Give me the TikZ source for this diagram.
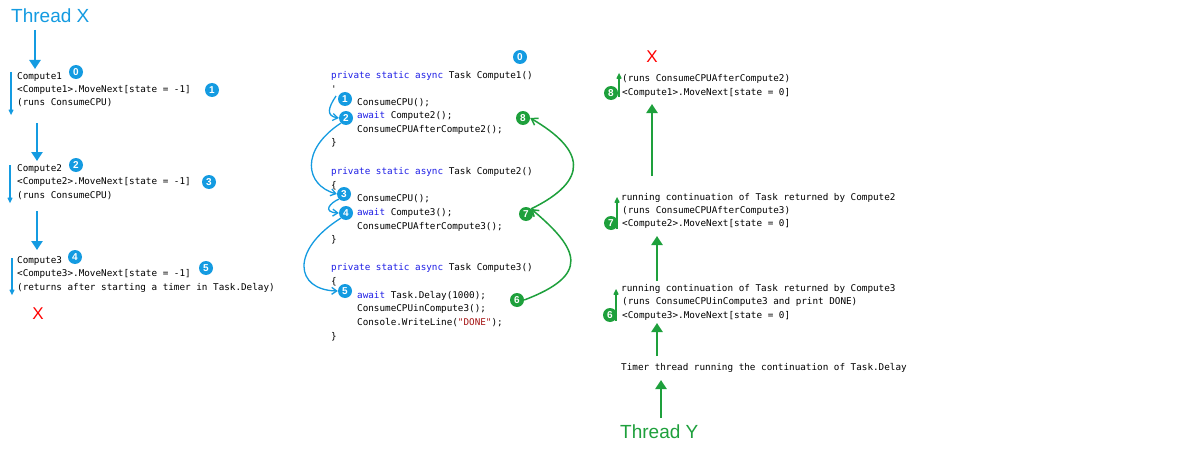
\documentclass[tikz,border=0pt]{standalone}
\usepackage{fontspec}
\setmainfont{Liberation Sans}
\setmonofont{DejaVu Sans Mono}
\usetikzlibrary{arrows.meta}
\definecolor{tblue}{RGB}{20,155,225}
\definecolor{tgreen}{RGB}{30,160,60}
\definecolor{kw}{RGB}{30,30,230}
\definecolor{strc}{RGB}{165,20,20}
\tikzset{
 code/.style={anchor=west,inner sep=0,font=\ttfamily\fontsize{9.3}{11}\selectfont},
 num/.style={circle,inner sep=0,minimum size=14,text=white,font=\bfseries\fontsize{10}{10}\selectfont},
 bnum/.style={num,fill=tblue},
 gnum/.style={num,fill=tgreen},
 bigb/.style={tblue,line width=2.6,-{Triangle[length=9,width=11]}},
 bigg/.style={tgreen,line width=2.6,-{Triangle[length=9,width=11]}},
 thinb/.style={tblue,line width=1.2,-{Straight Barb[length=4,width=4]}},
 thing/.style={tgreen,line width=1.5,-{Straight Barb[length=4,width=4]}},
 cb/.style={tblue,line width=1.3,-{Straight Barb[length=5,width=7]}},
 cg/.style={tgreen,line width=1.5,-{Straight Barb[length=6,width=8]}},
 redx/.style={text=red,font=\fontsize{17}{17}\selectfont},
}
\begin{document}
\begin{tikzpicture}[x=1pt,y=-1pt]
\useasboundingbox[fill=white] (0,0) rectangle (1200,452);
% left column
\node[anchor=west,inner sep=0,text=tblue,font=\fontsize{19}{19}\selectfont] (tx) at (11,16) {Thread X};
\coordinate (a1s) at (35,30); \coordinate (a1e) at (35,69);
\draw[bigb] (a1s) -- (a1e);
\node[code] (l1a) at (17,77) {Compute1};
\node[code] (l1b) at (17,90) {<Compute1>.MoveNext[state = -1]};
\node[code] (l1c) at (17,103) {(runs ConsumeCPU)};
\node[bnum] (c0a) at (76,72) {0};
\node[bnum] (c1a) at (212,90) {1};
\coordinate (t1s) at (11,72); \coordinate (t1e) at (11,115);
\draw[thinb] (t1s) -- (t1e);
\coordinate (a2s) at (37,123); \coordinate (a2e) at (37,161);
\draw[bigb] (a2s) -- (a2e);
\node[code] (l2a) at (17,169) {Compute2};
\node[code] (l2b) at (17,182) {<Compute2>.MoveNext[state = -1]};
\node[code] (l2c) at (17,196) {(runs ConsumeCPU)};
\node[bnum] (c2a) at (76,165) {2};
\node[bnum] (c3a) at (209,182) {3};
\coordinate (t2s) at (10,165); \coordinate (t2e) at (10,203);
\draw[thinb] (t2s) -- (t2e);
\coordinate (a3s) at (37,211); \coordinate (a3e) at (37,250);
\draw[bigb] (a3s) -- (a3e);
\node[code] (l3a) at (17,261) {Compute3};
\node[code] (l3b) at (17,274) {<Compute3>.MoveNext[state = -1]};
\node[code] (l3c) at (17,288) {(returns after starting a timer in Task.Delay)};
\node[bnum] (c4a) at (75,257) {4};
\node[bnum] (c5a) at (206,268) {5};
\coordinate (t3s) at (12,258); \coordinate (t3e) at (12,295);
\draw[thinb] (t3s) -- (t3e);
\node[redx] (xa) at (38,314) {X};
% middle code
\node[bnum] (c0b) at (520,57) {0};
\node[code] (m1) at (331,76) {\textcolor{kw}{private static async} Task Compute1()};
\node[code] (m2) at (331,89) {\textquotesingle};
\node[code] (m3) at (357,103) {ConsumeCPU();};
\node[code] (m4) at (357,116) {\textcolor{kw}{await} Compute2();};
\node[code] (m5) at (357,130) {ConsumeCPUAfterCompute2();};
\node[code] (m6) at (331,143) {\}};
\node[code] (m7) at (331,172) {\textcolor{kw}{private static async} Task Compute2()};
\node[code] (m8) at (331,186) {\{};
\node[code] (m9) at (357,199) {ConsumeCPU();};
\node[code] (m10) at (357,213) {\textcolor{kw}{await} Compute3();};
\node[code] (m11) at (357,227) {ConsumeCPUAfterCompute3();};
\node[code] (m12) at (331,240) {\}};
\node[code] (m13) at (331,268) {\textcolor{kw}{private static async} Task Compute3()};
\node[code] (m14) at (331,282) {\{};
\node[code] (m15) at (357,296) {\textcolor{kw}{await} Task.Delay(1000);};
\node[code] (m16) at (357,309) {ConsumeCPUinCompute3();};
\node[code] (m17) at (357,323) {Console.WriteLine(\textcolor{strc}{"DONE"});};
\node[code] (m18) at (331,337) {\}};
\node[bnum] (c1b) at (345,99) {1};
\node[bnum] (c2b) at (346,118) {2};
\node[bnum] (c3b) at (344,194) {3};
\node[bnum] (c4b) at (346,213) {4};
\node[bnum] (c5b) at (345,291) {5};
\node[gnum] (c6b) at (517,300) {6};
\node[gnum] (c7b) at (526,214) {7};
\node[gnum] (c8b) at (523,118) {8};
\coordinate (b1s) at (336,96);
\draw[cb] (b1s) .. controls (328,108) and (326,116) .. (c2b.west);
\draw[cb] (c2b.south west) .. controls (300,150) and (305,185) .. (c3b.west);
\draw[cb] (c3b.south west) .. controls (330,203) and (322,212) .. (c4b.west);
\draw[cb] (c4b.south west) .. controls (290,250) and (295,290) .. (c5b.west);
\draw[cg] (c6b.east) .. controls (590,275) and (580,250) .. (c7b.north east);
\draw[cg] (c7b.north east) .. controls (590,180) and (585,150) .. (c8b.east);
% right column
\node[redx] (xb) at (652,57) {X};
\node[code] (r1) at (622,79) {(runs ConsumeCPUAfterCompute2)};
\node[code] (r2) at (622,93) {<Compute1>.MoveNext[state = 0]};
\node[gnum] (c8c) at (611,93) {8};
\coordinate (u1s) at (619,97); \coordinate (u1e) at (619,73);
\draw[thing] (u1s) -- (u1e);
\coordinate (g1s) at (652,176); \coordinate (g1e) at (652,104);
\draw[bigg] (g1s) -- (g1e);
\node[code] (r3) at (621,198) {running continuation of Task returned by Compute2};
\node[code] (r4) at (622,211) {(runs ConsumeCPUAfterCompute3)};
\node[code] (r5) at (622,224) {<Compute2>.MoveNext[state = 0]};
\node[gnum] (c7c) at (611,223) {7};
\coordinate (u2s) at (617,229); \coordinate (u2e) at (617,197);
\draw[thing] (u2s) -- (u2e);
\coordinate (g2s) at (657,281); \coordinate (g2e) at (657,236);
\draw[bigg] (g2s) -- (g2e);
\node[code] (r6) at (621,289) {running continuation of Task returned by Compute3};
\node[code] (r7) at (622,302) {(runs ConsumeCPUinCompute3 and print DONE)};
\node[code] (r8) at (622,316) {<Compute3>.MoveNext[state = 0]};
\node[gnum] (c6c) at (610,315) {6};
\coordinate (u3s) at (616,321); \coordinate (u3e) at (616,289);
\draw[thing] (u3s) -- (u3e);
\coordinate (g3s) at (657,356); \coordinate (g3e) at (657,323);
\draw[bigg] (g3s) -- (g3e);
\node[code] (r9) at (621,368) {Timer thread running the continuation of Task.Delay};
\coordinate (g4s) at (661,418); \coordinate (g4e) at (661,380);
\draw[bigg] (g4s) -- (g4e);
\node[anchor=west,inner sep=0,text=tgreen,font=\fontsize{19}{19}\selectfont] (ty) at (620,432) {Thread Y};
\end{tikzpicture}
\end{document}
